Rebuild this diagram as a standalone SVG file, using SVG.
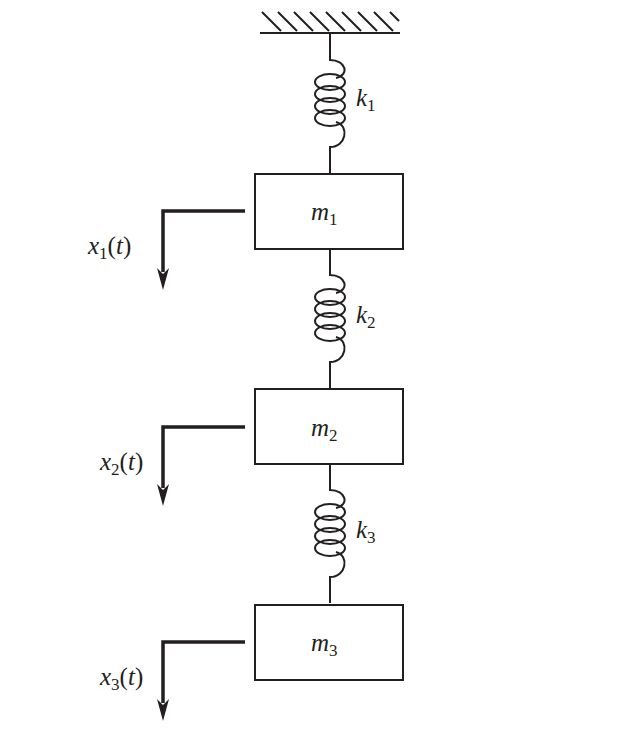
<svg xmlns="http://www.w3.org/2000/svg" width="631" height="743" viewBox="0 0 631 743">
<style>
.l{stroke:#231f20;stroke-width:2;fill:none}
.a{stroke:#231f20;stroke-width:3.5;fill:none}
.b{stroke:#231f20;stroke-width:2;fill:#fff}
text{font-family:"Liberation Serif","Times New Roman",serif;font-size:25px;fill:#231f20}
.s{font-size:17px}
</style>
<defs>
<g id="coil">
<path class="l" d="M0,0 V27 C16,27 20,42 6,45"/>
<ellipse class="l" cx="0" cy="49" rx="15" ry="8"/>
<ellipse class="l" cx="0" cy="61" rx="15" ry="8"/>
<ellipse class="l" cx="0" cy="73" rx="15" ry="8"/>
<ellipse class="l" cx="0" cy="85" rx="15" ry="8"/>
<path class="l" d="M6,89 C20,93 16,114 0,114 V140"/>
</g>
<path id="head" d="M-6,0 L0,22 L6,0 L0,6 Z" fill="#231f20"/>
</defs>
<g id="ceiling">
<line class="l" x1="260" y1="33" x2="400" y2="33"/>
<path class="l" stroke-width="1.5" d="M262,12 L281,31 M278,12 L297,31 M294,12 L313,31 M310,12 L329,31 M326,12 L345,31 M342,12 L361,31 M358,12 L377,31 M374,12 L393,31 M390,12 L399,21"/>
</g>
<g id="connectors">
<use href="#coil" x="330" y="33"/>
<use href="#coil" x="330" y="248"/>
<use href="#coil" x="330" y="463"/>
<path class="a" d="M245,211 H163 V272"/>
<use href="#head" x="163" y="268"/>
<path class="a" d="M245,427 H163 V488"/>
<use href="#head" x="163" y="484"/>
<path class="a" d="M245,642 H163 V703"/>
<use href="#head" x="163" y="699"/>
</g>
<g id="m1"><rect class="b" x="255" y="174" width="148" height="75"/><text x="311" y="220" font-style="italic">m<tspan class="s" font-style="normal" dy="5">1</tspan></text></g>
<g id="m2"><rect class="b" x="255" y="389" width="148" height="75"/><text x="311" y="436" font-style="italic">m<tspan class="s" font-style="normal" dy="5">2</tspan></text></g>
<g id="m3"><rect class="b" x="255" y="605" width="148" height="75"/><text x="311" y="651" font-style="italic">m<tspan class="s" font-style="normal" dy="5">3</tspan></text></g>
<g id="k1"><text x="356" y="106" font-style="italic">k<tspan class="s" font-style="normal" dy="5">1</tspan></text></g>
<g id="k2"><text x="356" y="323" font-style="italic">k<tspan class="s" font-style="normal" dy="5">2</tspan></text></g>
<g id="k3"><text x="356" y="538" font-style="italic">k<tspan class="s" font-style="normal" dy="5">3</tspan></text></g>
<g id="x1"><text x="88" y="254" font-style="italic">x<tspan class="s" font-style="normal" dy="5">1</tspan><tspan dy="-5" font-style="normal">(</tspan>t<tspan font-style="normal">)</tspan></text></g>
<g id="x2"><text x="100" y="470" font-style="italic">x<tspan class="s" font-style="normal" dy="5">2</tspan><tspan dy="-5" font-style="normal">(</tspan>t<tspan font-style="normal">)</tspan></text></g>
<g id="x3"><text x="100" y="685" font-style="italic">x<tspan class="s" font-style="normal" dy="5">3</tspan><tspan dy="-5" font-style="normal">(</tspan>t<tspan font-style="normal">)</tspan></text></g>
</svg>
